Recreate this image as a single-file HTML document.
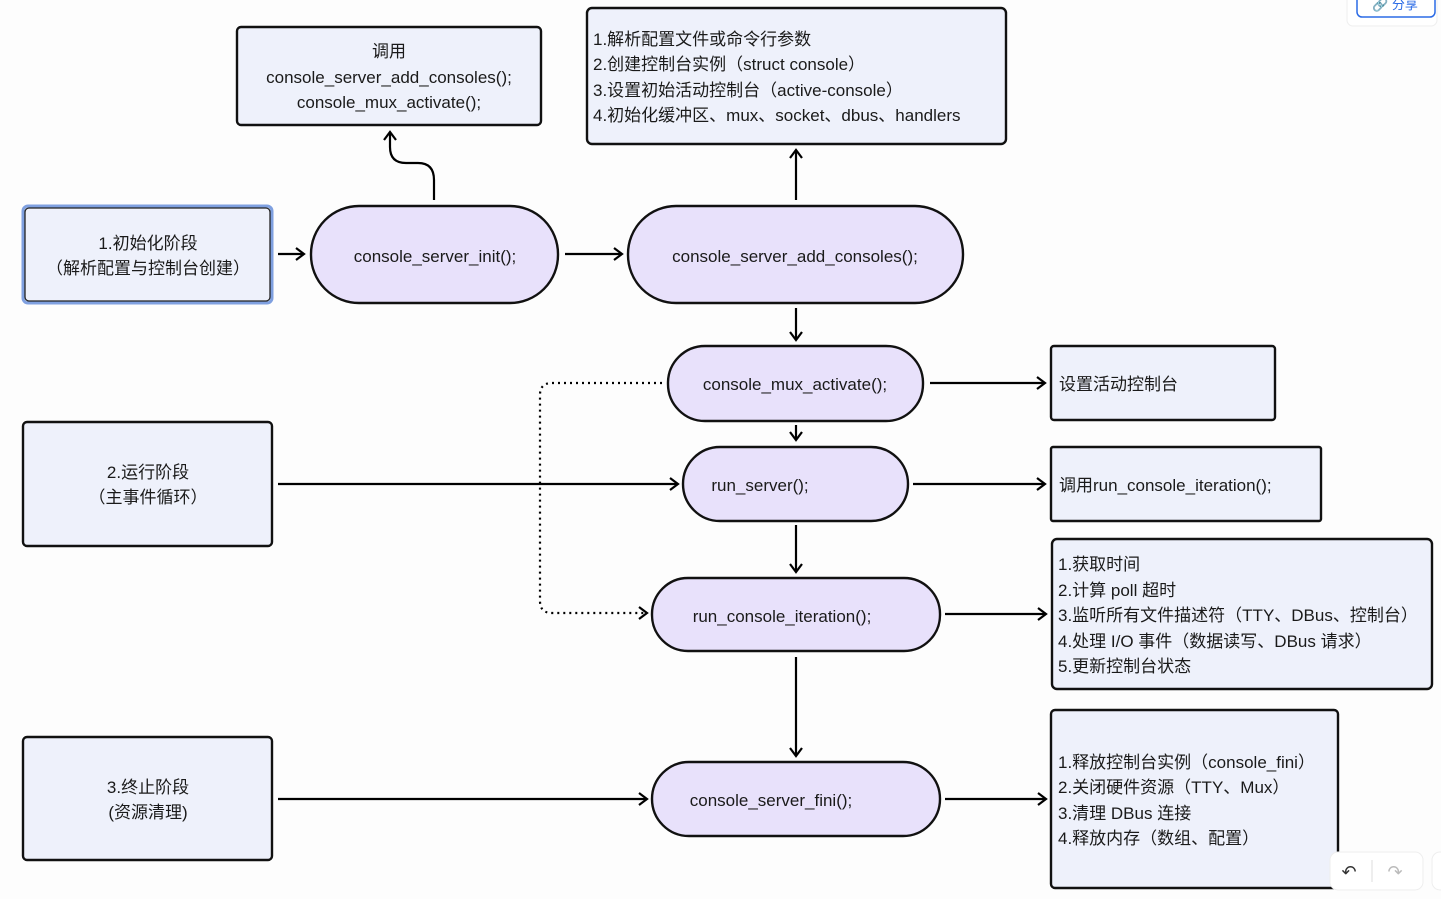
<!DOCTYPE html>
<html><head><meta charset="utf-8"><style>
html,body{margin:0;padding:0;background:#fff;}
svg text{font-family:"Liberation Sans","Noto Sans CJK SC",sans-serif;font-size:17px;fill:#1a1a1a;}
</style></head><body>
<svg width="1441" height="899" viewBox="0 0 1441 899" xmlns="http://www.w3.org/2000/svg">
<defs>
<marker id="a" markerWidth="12" markerHeight="14" refX="10" refY="7" orient="auto" markerUnits="userSpaceOnUse">
<path d="M2,1 L10,7 L2,13" fill="none" stroke="#000" stroke-width="2.2"/>
</marker>
</defs>
<rect width="1441" height="899" fill="#fdfdfd"/>
<g stroke="#111" stroke-width="2.4">
<rect x="237" y="27" width="304" height="98" rx="4" fill="#eef1fb"/>
<rect x="587" y="8" width="419" height="136" rx="5" fill="#eef1fb"/>
<rect x="23" y="206" width="249" height="97" rx="5" fill="#eef1fb" stroke="#7fa0e0" stroke-width="3"/>
<rect x="25" y="208" width="245" height="93" rx="4" fill="none" stroke="#222" stroke-width="1.3"/>
<rect x="311" y="206" width="247" height="97" rx="48" fill="#e8e1fb"/>
<rect x="628" y="206" width="335" height="97" rx="48" fill="#e8e1fb"/>
<rect x="668" y="346" width="255" height="75" rx="37" fill="#e8e1fb"/>
<rect x="1051" y="346" width="224" height="74" rx="3" fill="#eef1fb"/>
<rect x="23" y="422" width="249" height="124" rx="4" fill="#eef1fb"/>
<rect x="683" y="447" width="225" height="74" rx="37" fill="#e8e1fb"/>
<rect x="1051" y="447" width="270" height="74" rx="2" fill="#eef1fb"/>
<rect x="652" y="578" width="288" height="73" rx="36" fill="#e8e1fb"/>
<rect x="1052" y="539" width="380" height="150" rx="5" fill="#eef1fb"/>
<rect x="23" y="737" width="249" height="123" rx="4" fill="#eef1fb"/>
<rect x="652" y="762" width="288" height="74" rx="37" fill="#e8e1fb"/>
<rect x="1051" y="710" width="287" height="178" rx="4" fill="#eef1fb"/>
</g>
<g stroke="#000" stroke-width="2.2" fill="none" marker-end="url(#a)">
<path d="M434,200 V180 Q434,163 418,163 H406 Q390,163 390,147 V132"/>
<path d="M796,200 V150"/>
<path d="M278,254 H304"/>
<path d="M565,254 H622"/>
<path d="M796,308 V340"/>
<path d="M930,383 H1045"/>
<path d="M796,425 V440"/>
<path d="M278,484 H678"/>
<path d="M913,484 H1045"/>
<path d="M796,525 V572"/>
<path d="M945,614 H1046"/>
<path d="M796,657 V756"/>
<path d="M278,799 H647"/>
<path d="M945,799 H1046"/>
<path d="M662,383 H552 Q540,383 540,395 V601 Q540,613 552,613 H647" stroke-dasharray="2,4"/>
</g>
<text x="389" y="57" text-anchor="middle">调用</text>
<text x="389" y="83" text-anchor="middle">console_server_add_consoles();</text>
<text x="389" y="108" text-anchor="middle">console_mux_activate();</text>
<text x="593" y="45">1.解析配置文件或命令行参数</text>
<text x="593" y="70">2.创建控制台实例（struct console）</text>
<text x="593" y="96">3.设置初始活动控制台（active-console）</text>
<text x="593" y="121">4.初始化缓冲区、mux、socket、dbus、handlers</text>
<text x="148" y="249" text-anchor="middle">1.初始化阶段</text>
<text x="148" y="274" text-anchor="middle">（解析配置与控制台创建）</text>
<text x="435" y="262" text-anchor="middle">console_server_init();</text>
<text x="795" y="262" text-anchor="middle">console_server_add_consoles();</text>
<text x="795" y="390" text-anchor="middle">console_mux_activate();</text>
<text x="1059" y="390">设置活动控制台</text>
<text x="148" y="478" text-anchor="middle">2.运行阶段</text>
<text x="148" y="503" text-anchor="middle">（主事件循环）</text>
<text x="760" y="491" text-anchor="middle">run_server();</text>
<text x="1059" y="491">调用run_console_iteration();</text>
<text x="782" y="622" text-anchor="middle">run_console_iteration();</text>
<text x="1058" y="570">1.获取时间</text>
<text x="1058" y="596">2.计算 poll 超时</text>
<text x="1058" y="621">3.监听所有文件描述符（TTY、DBus、控制台）</text>
<text x="1058" y="647">4.处理 I/O 事件（数据读写、DBus 请求）</text>
<text x="1058" y="672">5.更新控制台状态</text>
<text x="148" y="793" text-anchor="middle">3.终止阶段</text>
<text x="148" y="818" text-anchor="middle">(资源清理)</text>
<text x="771" y="806" text-anchor="middle">console_server_fini();</text>
<text x="1058" y="768">1.释放控制台实例（console_fini）</text>
<text x="1058" y="793">2.关闭硬件资源（TTY、Mux）</text>
<text x="1058" y="819">3.清理 DBus 连接</text>
<text x="1058" y="844">4.释放内存（数组、配置）</text>
<rect x="1347" y="-10" width="90" height="36" rx="6" fill="#fff" stroke="#eee"/>
<rect x="1357" y="-8" width="78" height="25" rx="5" fill="#fff" stroke="#2b6be6" stroke-width="1.5"/>
<text x="1395" y="9" text-anchor="middle" style="font-size:13px;fill:#2b6be6">🔗 分享</text>
<rect x="1330" y="852" width="93" height="38" rx="8" fill="#fff" stroke="#eee"/>
<line x1="1372" y1="860" x2="1372" y2="882" stroke="#ddd"/>
<text x="1349" y="878" text-anchor="middle" style="font-size:18px;fill:#333">↶</text>
<text x="1395" y="878" text-anchor="middle" style="font-size:18px;fill:#bbb">↷</text>
<rect x="1432" y="852" width="20" height="38" rx="8" fill="#fff" stroke="#eee"/>
</svg>
</body></html>
